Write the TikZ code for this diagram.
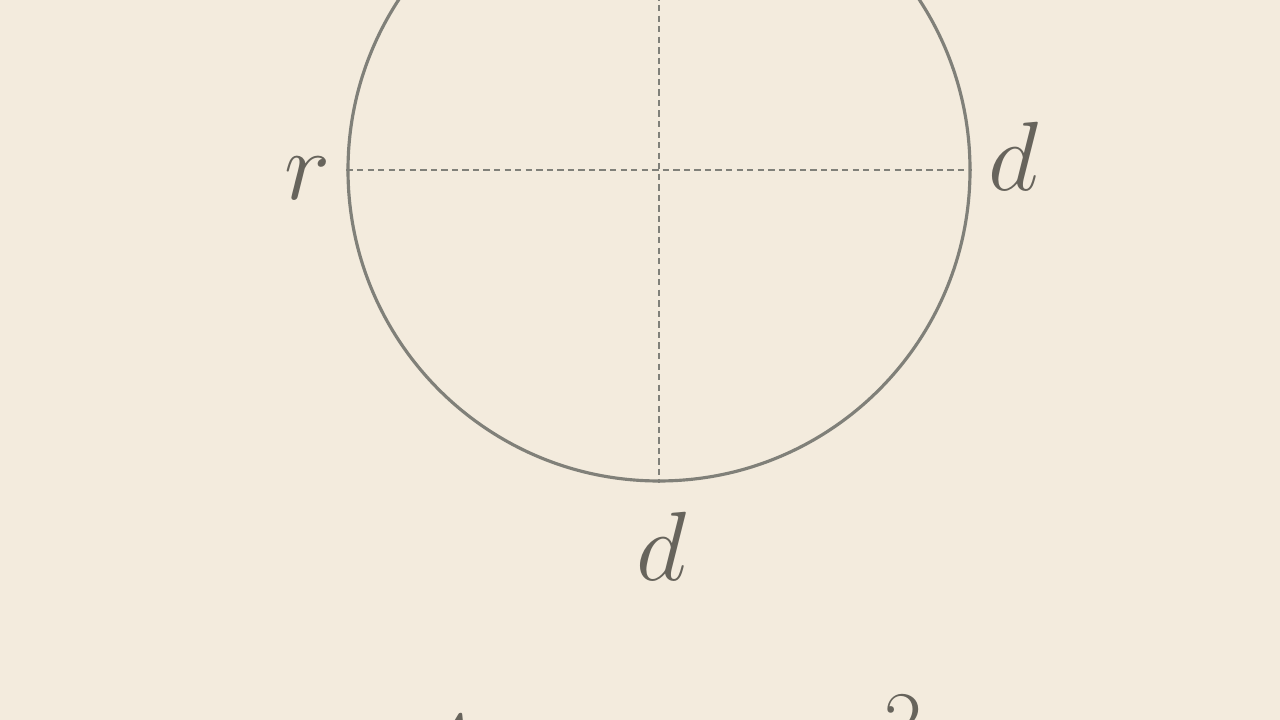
\documentclass[tikz,border=0pt]{standalone}
\usepackage{xcolor}
\usepackage{tikz}
\usetikzlibrary{calc,positioning}

\definecolor{paper}{HTML}{F3EBDD}
\definecolor{ink}{HTML}{67645C}
\definecolor{rim}{HTML}{808079}

\tikzset{
  lbl/.style={text=ink, anchor=base, inner sep=0pt, font=\Huge, scale=1.125},
  guide/.style={draw=rim, line width=0.45pt, dash pattern=on 1.8pt off 1.2pt},
}

\begin{document}
\begin{tikzpicture}
  \useasboundingbox (0,0) rectangle (12.8,7.2);
  \clip (0,0) rectangle (12.8,7.2);
  \fill[paper] (0,0) rectangle (12.8,7.2);

  \node[circle, draw=rim, line width=0.9pt, minimum size=6.22cm, inner sep=0pt] (c) at (6.59,5.50) {};

  \draw[guide] (c.west) -- (c.east);
  \draw[guide] (c.north) -- (c.south);

  \node[lbl] (l1) at ($(c.west)+(-0.39,-0.30)$) {$r$};
  \node[lbl] (l2) at ($(c.east)+(0.42,-0.21)$) {$d$};
  \node[lbl] (l3) at ($(c.south)+(0.03,-0.98)$) {$d$};

  \node[lbl, anchor=base west] (f) at (4.07,-0.64) {$A \mkern16mu = \mkern16mu \pi r^{2}$};
\end{tikzpicture}
\end{document}
